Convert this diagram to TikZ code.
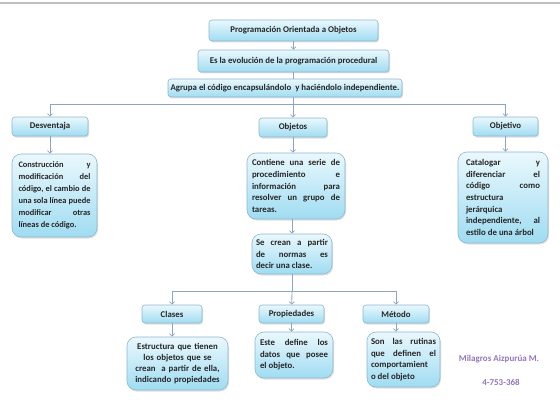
\documentclass[tikz,border=0pt]{standalone}
\usepackage{fontspec}
\setmainfont{Carlito}
\usetikzlibrary{arrows.meta,shadows}
\definecolor{celesteA}{HTML}{EAF8FD}
\definecolor{celesteB}{HTML}{9FDCF2}
\definecolor{bordeC}{HTML}{8DB6CF}
\definecolor{flechaC}{HTML}{8DA5C3}
\definecolor{lila}{HTML}{9476C0}
\tolerance=10000
\hbadness=10000

\begin{document}
\begin{tikzpicture}[x=1pt,y=-1pt,
    caja/.style={draw=bordeC, line width=0.6pt, top color=celesteA, bottom color=celesteB,
      rounded corners=3pt, drop shadow={shadow xshift=1pt,shadow yshift=-1.5pt,opacity=0.25},
      font=\fontsize{8.8}{10.8}\selectfont\bfseries,
      text=black!85, inner sep=0pt},
    titulo/.style={caja, minimum height=19pt},
    cuadro/.style={caja, rounded corners=9pt, align=justify, inner xsep=5pt, inner ysep=2pt,
      font=\fontsize{8.8}{11.6}\selectfont\bfseries},
    firma/.style={font=\fontsize{9}{11}\selectfont\bfseries, text=lila},
    linea/.style={draw=flechaC, line width=0.8pt},
    flecha/.style={linea, -{Straight Barb[length=2.5pt,width=5pt]}}]
  \useasboundingbox (0,0) rectangle (560,420);
  \draw[black!25, line width=1.5pt] (0,3) -- (560,3);
  \node[titulo, minimum width=169pt, minimum height=21pt] (poo) at (293.5,30.5) {Programación Orientada a Objetos};
  \node[titulo, minimum width=191pt, minimum height=22pt] (evol) at (293.5,61) {Es la evolución de la programación procedural};
  \node[titulo, minimum width=234pt, minimum height=18pt] (agrupa) at (285,88) {Agrupa el código encapsulándolo\ \ y haciéndolo independiente.};
  \node[titulo, minimum width=76pt] (desv) at (50,126.5) {Desventaja};
  \node[titulo, minimum width=68pt] (obj) at (293,127.5) {Objetos};
  \node[titulo, minimum width=65pt] (objv) at (505.5,126.5) {Objetivo};
  \node[cuadro, text width=72pt, inner xsep=6.5pt, minimum height=83pt, font=\fontsize{8.4}{12}\selectfont\bfseries] (constr) at (54.5,195.5) {Construcción y\linebreak modificación del\linebreak código, el cambio de\linebreak una sola línea puede\linebreak modificar otras\linebreak líneas de código.};
  \node[cuadro, text width=88pt, minimum height=66pt] (contiene) at (296,186) {Contiene una serie de\linebreak procedimiento e\linebreak información para\linebreak resolver un grupo de\linebreak tareas.};
  \node[cuadro, text width=72pt, inner xsep=4pt, minimum height=40pt] (crean) at (292,254) {Se crean a partir\linebreak de normas es\linebreak decir una clase.};
  \node[cuadro, text width=74pt, inner xsep=8pt, minimum height=91pt] (catalogar) at (503,197.5) {Catalogar y\linebreak diferenciar el\linebreak código como\linebreak estructura\linebreak jerárquica\linebreak independiente, al\linebreak estilo de una árbol};
  \node[titulo, minimum width=60pt, minimum height=18pt] (clases) at (172,314) {Clases};
  \node[titulo, minimum width=65pt, minimum height=18pt] (props) at (291.5,314) {Propiedades};
  \node[titulo, minimum width=66pt, minimum height=18pt] (metodo) at (396,314) {Método};
  \node[cuadro, align=center, text width=91pt, minimum height=53pt, font=\fontsize{8.8}{11}\selectfont\bfseries] (estruct) at (177.5,363.5) {Estructura que tienen\\ los objetos que se\\ crean\ \ a partir de ella,\\ indicando propiedades};
  \node[cuadro, text width=68pt, minimum height=46pt] (define) at (294,355) {Este define los\linebreak datos que posee\linebreak el objeto.};
  \node[cuadro, text width=65pt, inner xsep=4pt, minimum height=55pt] (rutinas) at (403.5,359.5) {Son las rutinas\linebreak que definen el\linebreak comportamient\linebreak o del objeto};
  \node[firma] (autor) at (499,359) {Milagros Aizpurúa M.};
  \node[firma] (cedula) at (501,382) {4-753-368};
  \coordinate (bus1) at (293,104);
  \coordinate (bus2) at (292,291);
  \draw[flecha] (poo) -- (evol);
  \draw[linea] (evol.south) -- (evol.south |- agrupa.north);
  \draw[linea] (agrupa.south -| bus1) -- (bus1);
  \draw[flecha] (bus1) -| (desv);
  \draw[flecha] (bus1) -- (obj);
  \draw[flecha] (bus1) -| (objv);
  \draw[flecha] (desv.south) -- (desv.south |- constr.north);
  \draw[flecha] (obj.south) -- (obj.south |- contiene.north);
  \draw[flecha] (objv.south) -- (objv.south |- catalogar.north);
  \draw[flecha] (contiene.south -| crean) -- (crean);
  \draw[linea] (crean) -- (bus2);
  \draw[flecha] (bus2) -| (clases);
  \draw[flecha] (bus2) -- (props);
  \draw[flecha] (bus2) -| (metodo);
  \draw[flecha] (clases.south) -- (clases.south |- estruct.north);
  \draw[flecha] (props.south) -- (props.south |- define.north);
  \draw[flecha] (metodo.south) -- (metodo.south |- rutinas.north);
\end{tikzpicture}
\end{document}
